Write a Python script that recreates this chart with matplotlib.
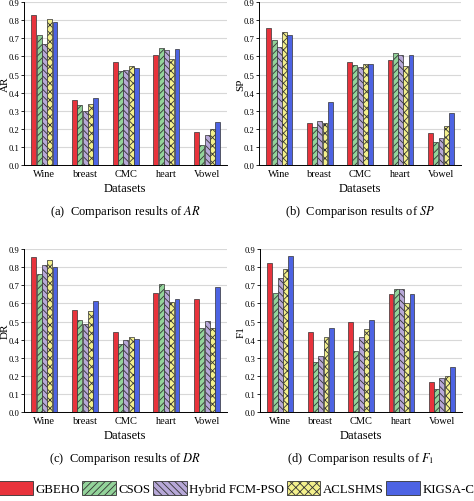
import numpy as np
import matplotlib.pyplot as plt
from matplotlib.patches import Patch

plt.rcParams['font.family'] = ['Liberation Serif', 'DejaVu Serif']
plt.rcParams['mathtext.fontset'] = 'stix'
plt.rcParams['hatch.linewidth'] = 0.6

datasets = ['Wine', 'breast', 'CMC', 'heart', 'Vowel']
methods = ['GBEHO', 'CSOS', 'Hybrid FCM-PSO', 'ACLSHMS', 'KIGSA-C']

# rows = methods, cols = datasets
ar = [[0.83, 0.36, 0.57, 0.61, 0.185],
      [0.72, 0.33, 0.52, 0.645, 0.11],
      [0.67, 0.30, 0.525, 0.635, 0.165],
      [0.805, 0.335, 0.545, 0.585, 0.20],
      [0.79, 0.37, 0.535, 0.64, 0.24]]
sp = [[0.755, 0.235, 0.57, 0.58, 0.18],
      [0.69, 0.21, 0.555, 0.62, 0.13],
      [0.65, 0.245, 0.54, 0.605, 0.15],
      [0.735, 0.235, 0.56, 0.545, 0.215],
      [0.72, 0.35, 0.56, 0.61, 0.285]]
dr = [[0.855, 0.565, 0.44, 0.655, 0.625],
      [0.76, 0.51, 0.375, 0.705, 0.465],
      [0.81, 0.485, 0.40, 0.675, 0.505],
      [0.84, 0.56, 0.415, 0.61, 0.465],
      [0.80, 0.615, 0.405, 0.625, 0.69]]
f1 = [[0.825, 0.44, 0.495, 0.65, 0.165],
      [0.66, 0.275, 0.34, 0.68, 0.125],
      [0.74, 0.31, 0.415, 0.68, 0.19],
      [0.79, 0.415, 0.46, 0.60, 0.20],
      [0.86, 0.465, 0.51, 0.65, 0.25]]

colors = ['#e8333c', '#93d39a', '#b7a8d8', '#f3f08c', '#4d63e3']
hatches = ['', '/////', '\\\\\\\\\\', 'xxxx', '']

panels = [(ar, 'AR', '(a)  Comparison results of $AR$'),
          (sp, 'SP', '(b)  Comparison results of $SP$'),
          (dr, 'DR', '(c)  Comparison results of $DR$'),
          (f1, 'F1', '(d)  Comparison results of $F_1$')]

fig = plt.figure(figsize=(4.74, 5.02), dpi=100)
pos = [[0.05, 0.669, 0.429, 0.325], [0.546, 0.669, 0.426, 0.325],
       [0.05, 0.177, 0.429, 0.325], [0.548, 0.177, 0.426, 0.325]]

x = np.arange(len(datasets))
w = 0.12
step = 0.13
for p, (vals, ylab, cap) in zip(pos, panels):
    ax = fig.add_axes(p)
    for i in range(len(methods)):
        ax.bar(x + (i - 2) * step, vals[i], w, color=colors[i], hatch=hatches[i],
               edgecolor='#333333', linewidth=0.5, zorder=3)
    ax.set_ylim(0, 0.9)
    ax.set_xlim(-0.51, 4.49)
    ax.set_yticks(np.arange(0, 0.91, 0.1))
    ax.set_yticklabels(['%.1f' % v for v in np.arange(0, 0.91, 0.1)], fontsize=6.2)
    ax.set_xticks(x)
    ax.set_xticklabels(datasets, fontsize=7.5)
    ax.tick_params(axis='x', length=0, pad=3)
    ax.tick_params(axis='y', length=2, width=0.6, pad=1.2)
    ax.grid(axis='y', color='#d8d8d8', linewidth=0.8, zorder=0)
    for s in ['top', 'right']:
        ax.spines[s].set_visible(False)
    ax.spines['left'].set_linewidth(0.7)
    ax.spines['bottom'].set_linewidth(0.7)
    ax.set_ylabel(ylab, fontsize=8)
    ax.yaxis.set_label_coords(-0.068, 0.5)
    ax.set_xlabel('Datasets', fontsize=9, labelpad=3)
    ax.text(0.5, -0.28, cap, transform=ax.transAxes, ha='center', va='center', fontsize=9)

handles = [Patch(facecolor=colors[i], hatch=hatches[i], edgecolor='#333333', linewidth=0.6)
           for i in range(len(methods))]
fig.legend(handles, methods, loc='center left', bbox_to_anchor=(-0.002, 0.026), ncol=5,
           frameon=False, fontsize=9.3, handlelength=2.6, handleheight=1.3,
           handletextpad=0.2, columnspacing=0.2, borderaxespad=0, borderpad=0)

fig.savefig('out.png', dpi=100)
